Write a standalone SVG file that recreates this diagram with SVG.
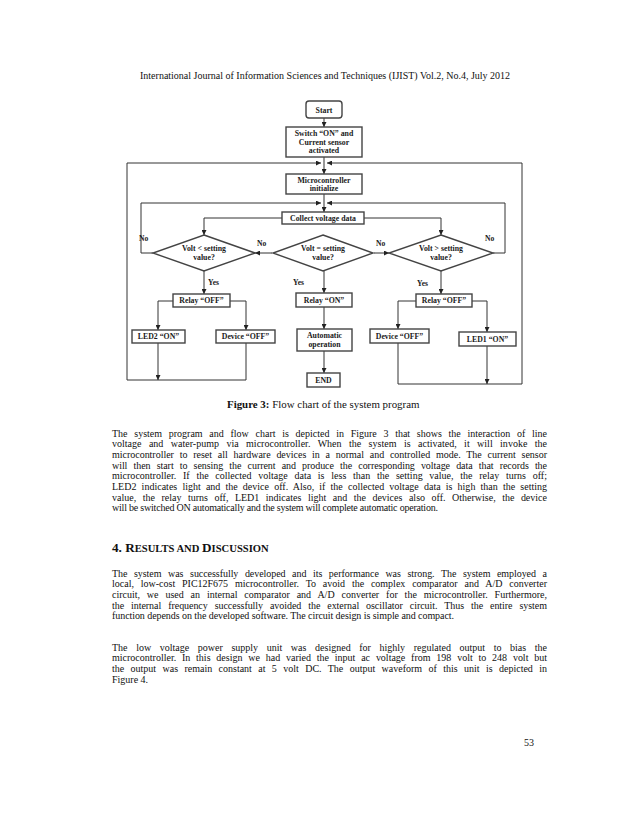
<svg xmlns="http://www.w3.org/2000/svg" width="638" height="826" viewBox="0 0 638 826">
<defs>
<marker id="ah" viewBox="0 0 8 8" refX="8" refY="4" markerWidth="5" markerHeight="5" orient="auto" markerUnits="userSpaceOnUse">
<path d="M0,0 L8,4 L0,8 z" fill="#222"/>
</marker>
</defs>
<style>
.bx{fill:#fff;stroke:#444;stroke-width:1.4}
.ar{fill:none;stroke:#333;stroke-width:1;marker-end:url(#ah)}
.ft{font-family:"Liberation Serif","Times New Roman",serif;font-weight:bold;font-size:7.8px;fill:#1a1a1a;text-anchor:middle}
.lb{font-family:"Liberation Serif","Times New Roman",serif;font-weight:bold;font-size:7.6px;fill:#1a1a1a}
.bt{font-family:"Liberation Serif","Times New Roman",serif;font-size:10px;fill:#111}
.cap{font-family:"Liberation Serif","Times New Roman",serif;font-size:10.9px;fill:#111}
.hd{font-family:"Liberation Serif","Times New Roman",serif;font-weight:bold;fill:#111}
</style>
<rect width="638" height="826" fill="#fff"/>
<text class="bt" x="140" y="79">International Journal of Information Sciences and Techniques (IJIST) Vol.2, No.4, July 2012</text>

<g id="connectors">
<path class="ar" d="M324,118 V127"/>
<path class="ar" d="M324,157 V174"/>
<path class="ar" d="M324,194 V212"/>
<path class="ar" d="M153,253 H141 V203 H321"/>
<path class="ar" d="M493,253 H505 V203 H327"/>
<path class="ar" d="M246,343 V380 H127 V163 H321"/>
<path class="ar" d="M398,343 V384 H522 V163 H327"/>
<path class="ar" d="M158,343 V380"/>
<path class="ar" d="M487,346 V384"/>
<path class="ar" d="M282,218 H204 V235"/>
<path class="ar" d="M364,218 H441 V235"/>
<path class="ar" d="M272,253 H255"/>
<path class="ar" d="M374,253 H389"/>
<path class="ar" d="M204,271 V294"/>
<path class="ar" d="M324,271 V293"/>
<path class="ar" d="M441,271 V294"/>
<path class="ar" d="M173,301 H158 V330"/>
<path class="ar" d="M230,301 H246 V330"/>
<path class="ar" d="M416,301 H398 V329"/>
<path class="ar" d="M472,301 H487 V332"/>
<path class="ar" d="M324,307 V329"/>
<path class="ar" d="M324,351 V373"/>
</g>

<g id="start"><rect class="bx" x="306" y="101" width="36" height="17" rx="3"/><text class="ft" x="324" y="112.5">Start</text></g>
<g id="switch"><rect class="bx" x="286" y="127" width="76" height="30"/><text class="ft" x="324" y="136">Switch “ON” and</text><text class="ft" x="324" y="144.5">Current sensor</text><text class="ft" x="324" y="153">activated</text></g>
<g id="micro"><rect class="bx" x="286" y="174" width="76" height="20"/><text class="ft" x="324" y="182.5">Microcontroller</text><text class="ft" x="324" y="191">initialize</text></g>
<g id="collect"><rect class="bx" x="282" y="212" width="82" height="12"/><text class="ft" x="323" y="220.8">Collect voltage data</text></g>
<g id="dleft"><path class="bx" d="M204,235 L255,253 L204,271 L153,253 Z"/><text class="ft" x="204" y="251">Volt &lt; setting</text><text class="ft" x="204" y="260">value?</text></g>
<g id="dmid"><path class="bx" d="M323,235 L373,253 L323,271 L273,253 Z"/><text class="ft" x="323" y="251">Volt = setting</text><text class="ft" x="323" y="260">value?</text></g>
<g id="dright"><path class="bx" d="M441,235 L493,253 L441,271 L389,253 Z"/><text class="ft" x="441" y="251">Volt &gt; setting</text><text class="ft" x="441" y="260">value?</text></g>
<g id="labels">
<text class="lb" x="139" y="241">No</text>
<text class="lb" x="257" y="246">No</text>
<text class="lb" x="376" y="246">No</text>
<text class="lb" x="485" y="241">No</text>
<text class="lb" x="208" y="285">Yes</text>
<text class="lb" x="293" y="285">Yes</text>
<text class="lb" x="417" y="286">Yes</text>
</g>
<g id="relayL"><rect class="bx" x="173" y="294" width="57" height="13"/><text class="ft" x="201.5" y="303.4">Relay “OFF”</text></g>
<g id="relayM"><rect class="bx" x="296" y="293" width="56" height="14"/><text class="ft" x="324" y="302.9">Relay “ON”</text></g>
<g id="relayR"><rect class="bx" x="416" y="294" width="56" height="13"/><text class="ft" x="444" y="303.4">Relay “OFF”</text></g>
<g id="led2"><rect class="bx" x="132" y="330" width="53" height="13"/><text class="ft" x="158.5" y="339.4">LED2 “ON”</text></g>
<g id="devL"><rect class="bx" x="216" y="330" width="59" height="13"/><text class="ft" x="245.5" y="339.4">Device “OFF”</text></g>
<g id="auto"><rect class="bx" x="297" y="329" width="55" height="22"/><text class="ft" x="324.5" y="338">Automatic</text><text class="ft" x="324.5" y="347">operation</text></g>
<g id="end"><rect class="bx" x="307" y="373" width="33" height="14"/><text class="ft" x="323.5" y="382.9">END</text></g>
<g id="devR"><rect class="bx" x="370" y="329" width="59" height="14"/><text class="ft" x="399.5" y="338.9">Device “OFF”</text></g>
<g id="led1"><rect class="bx" x="459" y="332" width="57" height="14"/><text class="ft" x="487.5" y="341.9">LED1 “ON”</text></g>

<text class="cap" x="227" y="407.5"><tspan font-weight="bold">Figure 3:</tspan> Flow chart of the system program</text>

<g class="bt">
<text x="112" y="436.5" word-spacing="4.2" textLength="435" lengthAdjust="spacing">The system program and flow chart is depicted in Figure 3 that shows the interaction of line</text>
<text x="112" y="447.2" word-spacing="4.9" textLength="435" lengthAdjust="spacing">voltage and water-pump via microcontroller. When the system is activated, it will invoke the</text>
<text x="112" y="457.9" word-spacing="3.3" textLength="435" lengthAdjust="spacing">microcontroller to reset all hardware devices in a normal and controlled mode. The current sensor</text>
<text x="112" y="468.6" word-spacing="3.7" textLength="435" lengthAdjust="spacing">will then start to sensing the current and produce the corresponding voltage data that records the</text>
<text x="112" y="479.3" word-spacing="4.2" textLength="435" lengthAdjust="spacing">microcontroller. If the collected voltage data is less than the setting value, the relay turns off;</text>
<text x="112" y="490" word-spacing="2.6" textLength="435" lengthAdjust="spacing">LED2 indicates light and the device off. Also, if the collected voltage data is high than the setting</text>
<text x="112" y="500.7" word-spacing="4.0" textLength="435" lengthAdjust="spacing">value, the relay turns off, LED1 indicates light and the devices also off. Otherwise, the device</text>
<text x="112" y="511.4" textLength="326" lengthAdjust="spacing">will be switched ON automatically and the system will complete automatic operation.</text>
</g>

<text class="hd" x="112" y="552"><tspan font-size="13.2">4. R</tspan><tspan font-size="10.6">ESULTS AND </tspan><tspan font-size="13.2">D</tspan><tspan font-size="10.6">ISCUSSION</tspan></text>

<g class="bt">
<text x="112" y="576.5" word-spacing="4.15" textLength="435" lengthAdjust="spacing">The system was successfully developed and its performance was strong. The system employed a</text>
<text x="112" y="587.2" word-spacing="4.3" textLength="435" lengthAdjust="spacing">local, low-cost PIC12F675 microcontroller. To avoid the complex comparator and A/D converter</text>
<text x="112" y="597.9" word-spacing="4.4" textLength="435" lengthAdjust="spacing">circuit, we used an internal comparator and A/D converter for the microcontroller. Furthermore,</text>
<text x="112" y="608.6" word-spacing="4.5" textLength="435" lengthAdjust="spacing">the internal frequency successfully avoided the external oscillator circuit. Thus the entire system</text>
<text x="112" y="619.3" textLength="342" lengthAdjust="spacing">function depends on the developed software. The circuit design is simple and compact.</text>
</g>

<g class="bt">
<text x="112" y="650.5" word-spacing="6.1" textLength="435" lengthAdjust="spacing">The low voltage power supply unit was designed for highly regulated output to bias the</text>
<text x="112" y="661.2" word-spacing="3.3" textLength="435" lengthAdjust="spacing">microcontroller. In this design we had varied the input ac voltage from 198 volt to 248 volt but</text>
<text x="112" y="671.9" word-spacing="3.9" textLength="435" lengthAdjust="spacing">the output was remain constant at 5 volt DC. The output waveform of this unit is depicted in</text>
<text x="112" y="682.6">Figure 4.</text>
</g>

<text class="bt" x="524" y="746">53</text>
</svg>
